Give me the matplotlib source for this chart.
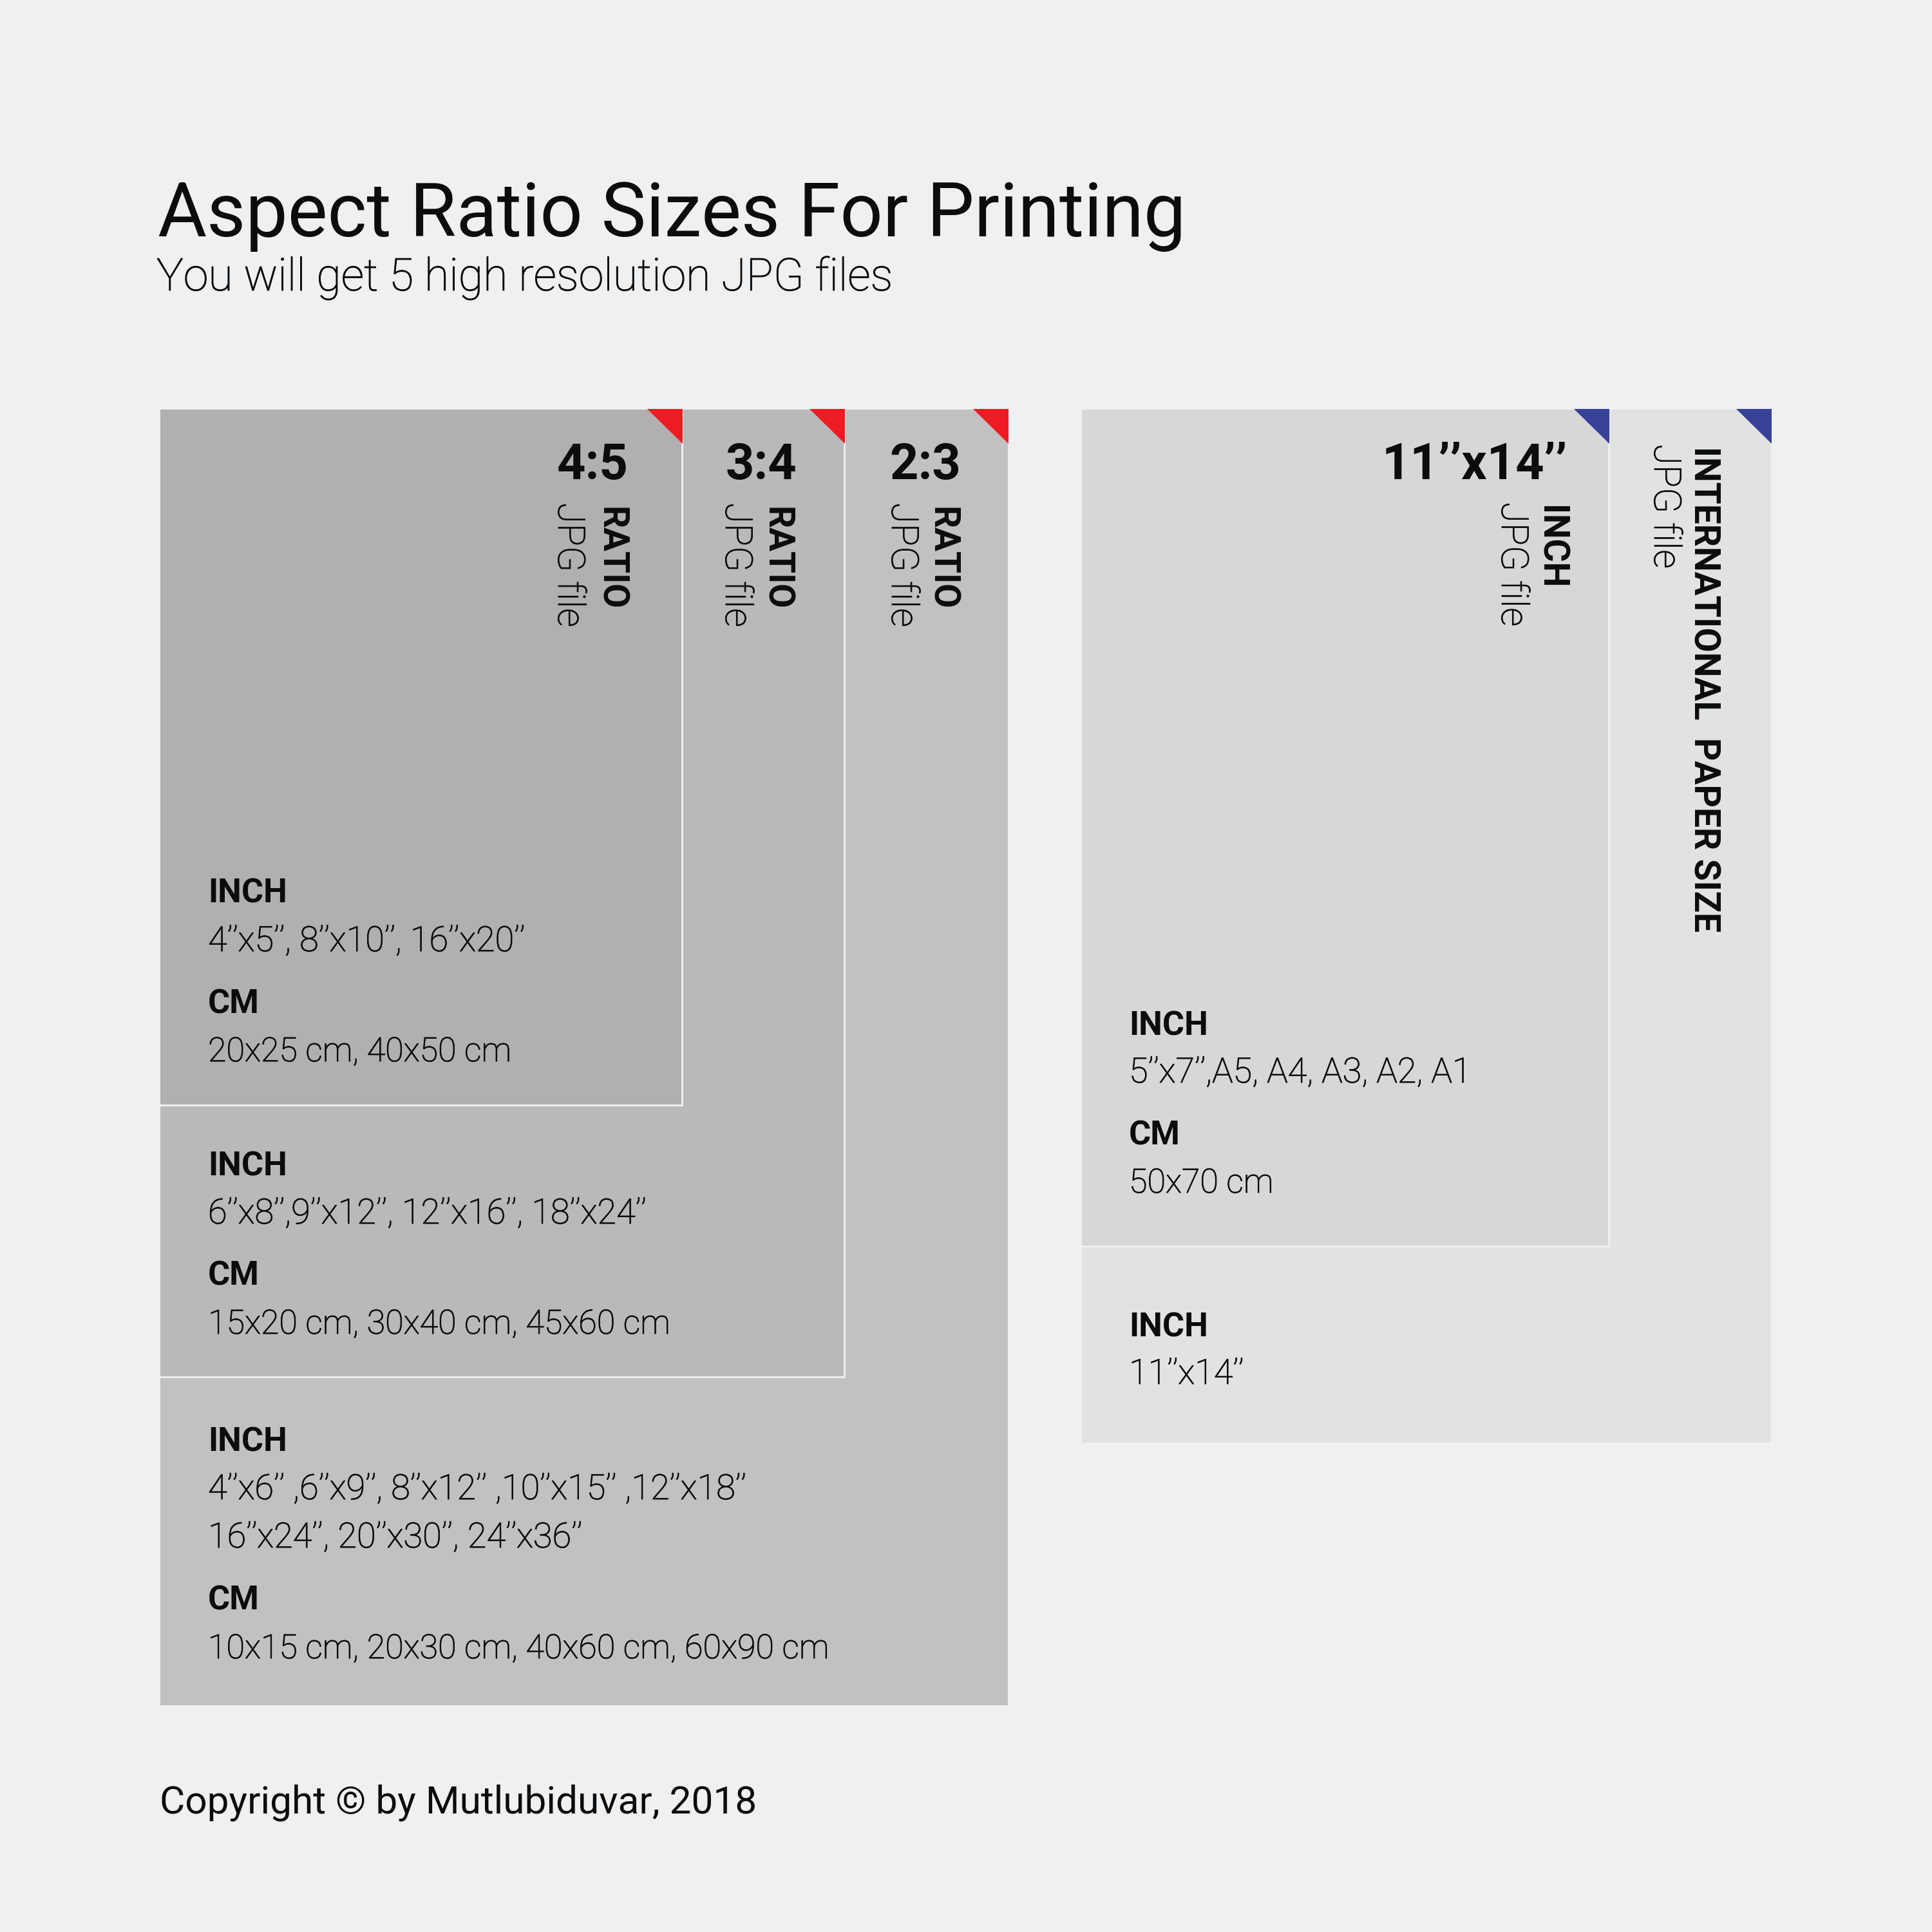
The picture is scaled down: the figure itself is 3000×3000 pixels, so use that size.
import matplotlib
matplotlib.use('Agg')
import matplotlib.pyplot as plt
import matplotlib.patheffects as pe
from matplotlib.patches import Rectangle, Polygon

plt.rcParams['font.family'] = ['Roboto', 'DejaVu Sans']

bg_color = '#eff0f2'
text_color = '#0a0c0e'
line_color = '#eef0f1'

# panels, back to front
panel_left = [249, 249, 249, 1680, 1680]
panel_top = [636, 636, 636, 636, 636]
panel_right = [1565, 1311, 1059, 2750, 2498]
panel_bottom = [2648, 2138, 1716, 2240, 1935]
panel_colors = ['#c1c1c1', '#b9b9b9', '#b1afb0', '#e1e2e2', '#d7d7d8']
panel_outline = [False, True, True, False, True]
corner_colors = ['#ed1c24', '#ed1c24', '#ed1c24', '#374197', '#374197']
corner_size = 54

ratio_labels = ['2:3', '3:4', '4:5', '11’’x14’’']
ratio_x = [1492, 1237, 976, 2434]
ratio_y = 744

side_labels = ['RATIO', 'RATIO', 'RATIO', 'INCH', 'INTERNATIONAL  PAPER SIZE']
side_x = [1447, 1190, 933, 2393, 2631]
side_y = [787, 787, 787, 785, 693]
file_x = [1385, 1127, 867, 2332, 2569]
file_y = [781, 781, 781, 780, 690]

heads = ['INCH', 'CM', 'INCH', 'CM', 'INCH', 'CM', 'INCH', 'CM', 'INCH']
head_x = [323, 323, 323, 323, 323, 323, 1753, 1753, 1753]
head_y = [1402, 1573, 1825, 1996, 2253, 2500, 1607, 1777, 2075]

values = [
    '4’’x5’’, 8’’x10’’, 16’’x20’’',
    '20x25 cm, 40x50 cm',
    '6’’x8’’,9’’x12’’, 12’’x16’’, 18’’x24’’',
    '15x20 cm, 30x40 cm, 45x60 cm',
    '4’’x6’’ ,6’’x9’’, 8’’x12’’ ,10’’x15’’ ,12’’x18’’',
    '16’’x24’’, 20’’x30’’, 24’’x36’’',
    '10x15 cm, 20x30 cm, 40x60 cm, 60x90 cm',
    '5’’x7’’,A5, A4, A3, A2, A1',
    '50x70 cm',
    '11’’x14’’',
]
value_x = [323, 323, 323, 323, 323, 323, 323, 1753, 1753, 1753]
value_y = [1477, 1648, 1900, 2071, 2328, 2403, 2575, 1681, 1852, 2149]

# roboto light comes out thinner than the original type
thicken = [pe.withStroke(linewidth=0.25, foreground=text_color)]

fig = plt.figure(figsize=(10, 10), dpi=300, facecolor=bg_color)
ax = fig.add_axes([0, 0, 1, 1])
ax.set_xlim(0, 3000)
ax.set_ylim(3000, 0)
ax.axis('off')

for i in range(len(panel_left)):
    ax.add_patch(Rectangle((panel_left[i], panel_top[i]),
                           panel_right[i] - panel_left[i],
                           panel_bottom[i] - panel_top[i],
                           facecolor=panel_colors[i], edgecolor='none'))
    if panel_outline[i]:
        ax.plot([panel_left[i], panel_right[i], panel_right[i]],
                [panel_bottom[i], panel_bottom[i], panel_top[i]],
                color=line_color, lw=0.7, solid_joinstyle='miter')
    r = panel_right[i]
    t = panel_top[i] - 1
    ax.add_patch(Polygon([(r - corner_size, t), (r + 1, t), (r + 1, t + corner_size)],
                         facecolor=corner_colors[i], edgecolor='none', zorder=3))

# titles
ax.text(245, 367, 'Aspect Ratio Sizes For Printing', fontsize=28, color=text_color,
        ha='left', va='baseline')
ax.text(243, 451, 'You will get 5 high resolution JPG files', fontsize=16.8, weight='light',
        color=text_color, ha='left', va='baseline', path_effects=thicken)
ax.text(248, 2816, 'Copyright © by Mutlubiduvar, 2018', fontsize=14.5, color=text_color,
        ha='left', va='baseline')

for label, x in zip(ratio_labels, ratio_x):
    ax.text(x, ratio_y, label, fontsize=18.6, weight='bold', color=text_color,
            ha='right', va='baseline')

for label, x, y in zip(side_labels, side_x, side_y):
    ax.text(x, y, label, fontsize=13.2, weight='bold', color=text_color, rotation=-90,
            rotation_mode='anchor', ha='left', va='baseline')

for x, y in zip(file_x, file_y):
    ax.text(x, y, 'JPG file', fontsize=14, weight='light', color=text_color, rotation=-90,
            rotation_mode='anchor', ha='left', va='baseline', path_effects=thicken)

for label, x, y in zip(heads, head_x, head_y):
    ax.text(x, y, label, fontsize=12.5, weight='bold', color=text_color,
            ha='left', va='baseline')

for label, x, y in zip(values, value_x, value_y):
    # the inch marks are wider in the original, so these lines run longer
    size = 13 if '’’' in label else 12.5
    ax.text(x, y, label, fontsize=size, weight='light', color=text_color,
            ha='left', va='baseline', path_effects=thicken)

fig.savefig('out.png', dpi=300, facecolor=bg_color)
